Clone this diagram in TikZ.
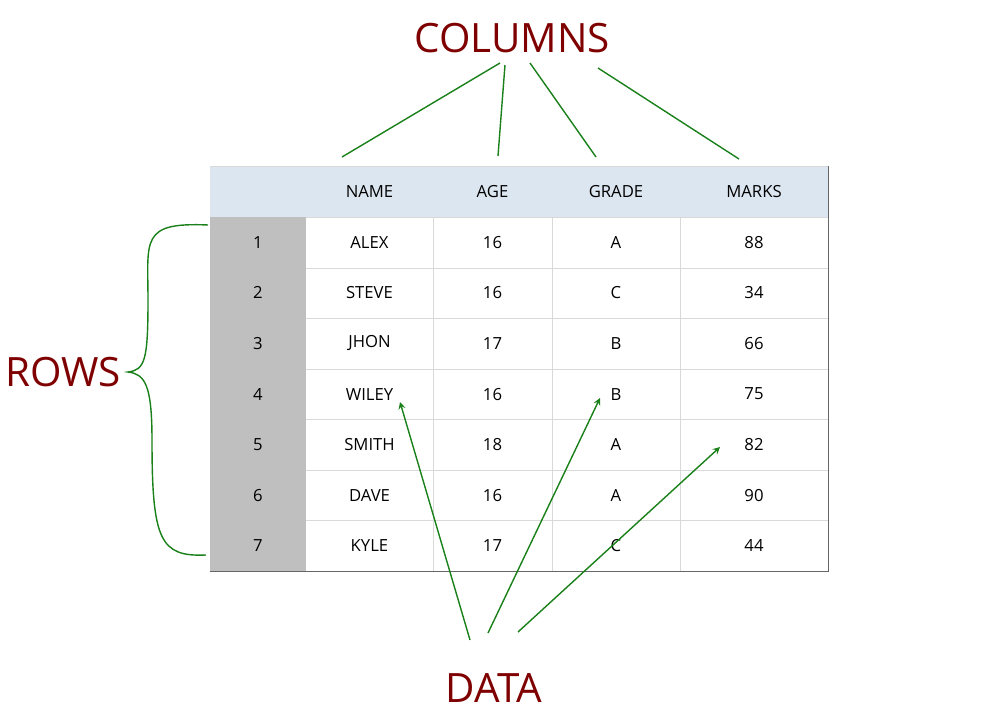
\documentclass[tikz,border=0pt]{standalone}
\usepackage{fontspec}
\setmainfont{Open Sans}
\definecolor{hdr}{HTML}{DCE6F1}
\definecolor{idx}{HTML}{BFBFBF}
\definecolor{grid}{HTML}{D9D9D9}
\definecolor{dred}{HTML}{7F0000}
\definecolor{gr}{HTML}{1A801A}
\begin{document}
\begin{tikzpicture}[x=0.02cm,y=-0.02cm,
  cell/.style={font=\fontsize{9.5}{11}\selectfont},
  big/.style={text=dred,font=\fontsize{23}{26}\selectfont},
  gline/.style={gr,line width=0.8pt},
  garrow/.style={gr,line width=0.8pt,-stealth}]
\useasboundingbox (0,0) rectangle (991,710);
\fill[hdr] (210,166) rectangle (828,217);
\fill[idx] (210,217) rectangle (306,571);
% grid
\foreach \y in {268,318,369,419,470,520} \draw[grid] (306,\y) -- (828,\y);
\foreach \x in {433,552,680} \draw[grid] (\x,217) -- (\x,571);
\draw[grid] (306,217) -- (828,217);
\draw[gray!80!black] (828,166) -- (828,571) -- (210,571);
\draw[grid] (210,166) -- (828,166);
% header
\foreach \t/\x in {NAME/369.5,AGE/492.5,GRADE/616,MARKS/754}
  \node[cell] (h\t) at (\x,192) {\t};
% rows
\foreach \i/\n/\a/\g/\m [count=\r] in {1/ALEX/16/A/88,2/STEVE/16/C/34,3/JHON/17/B/66,4/WILEY/16/B/75,5/SMITH/18/A/82,6/DAVE/16/A/90,7/KYLE/17/C/44}{
  \pgfmathsetmacro\yy{217+50.6*(\r-0.5)}
  \node[cell] (i\r) at (258,\yy) {\i};
  \node[cell] (n\r) at (369.5,\yy) {\n};
  \node[cell] (a\r) at (492.5,\yy) {\a};
  \node[cell] (g\r) at (616,\yy) {\g};
  \node[cell] (m\r) at (754,\yy) {\m};
}
% big labels
\node[big] (cols) at (512,38) {COLUMNS};
\node[big] (rows) at (63,372) {ROWS};
\node[big] (data) at (494,688) {DATA};
% column lines
\coordinate (c1) at (342,157); \coordinate (c2) at (498,156);
\coordinate (c3) at (596,157); \coordinate (c4) at (739,159);
\draw[gline] (500,63) -- (c1);
\draw[gline] (505,65) -- (c2);
\draw[gline] (530,63) -- (c3);
\draw[gline] (598,68) -- (c4);
% brace
\coordinate (bt) at (208,225); \coordinate (bb) at (206,555); \coordinate (bp) at (128,372);
\draw[gline] (bt) .. controls (140,222) and (148,240) .. (148,300)
  .. controls (148,360) and (145,370) .. (bp)
  .. controls (145,374) and (152,385) .. (152,440)
  .. controls (152,540) and (160,557) .. (bb);
% data arrows
\coordinate (d1) at (400,402); \coordinate (d2) at (600,398); \coordinate (d3) at (720,447);
\draw[garrow] (470,640) -- (d1);
\draw[garrow] (488,633) -- (d2);
\draw[garrow] (518,632) -- (d3);
\end{tikzpicture}
\end{document}
